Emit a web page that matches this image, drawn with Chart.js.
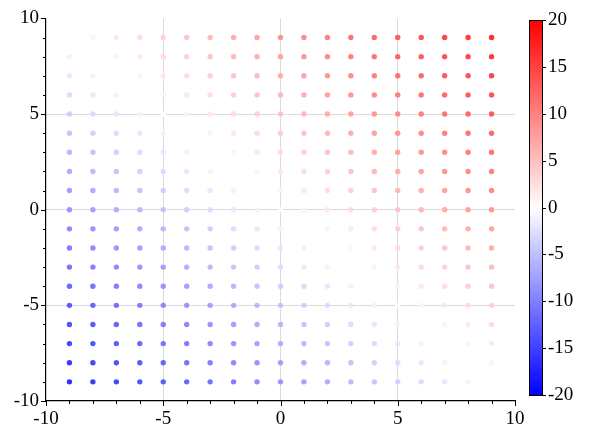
<!DOCTYPE html>
<html><head><meta charset="utf-8">
<script src="https://cdn.jsdelivr.net/npm/chart.js@4/dist/chart.umd.min.js"></script>
<style>html,body{margin:0;background:#fff}#c{display:block}</style>
</head><body>
<div style="width:590px;height:442px"><canvas id="c"></canvas></div>
<script>
// grid coordinates and value range
const xs = [-9,-8,-7,-6,-5,-4,-3,-2,-1,0,1,2,3,4,5,6,7,8,9];
const ys = [-9,-8,-7,-6,-5,-4,-3,-2,-1,0,1,2,3,4,5,6,7,8,9];
const axisTicks = [-10,-5,0,5,10];
const cbTicks = [-20,-15,-10,-5,0,5,10,15,20];
const vMin = -20, vMax = 20;

const bwr = (v) => {
  const t = Math.max(0, Math.min(1, (v - vMin) / (vMax - vMin)));
  let r, g, b;
  if (t < 0.5) { r = g = Math.round(510 * t); b = 255; }
  else { r = 255; g = b = Math.round(510 * (1 - t)); }
  return `rgba(${r},${g},${b},0.9)`;
};

const pts = [], cols = [];
ys.forEach(y => xs.forEach(x => { pts.push({x, y}); cols.push(bwr(x + y)); }));

const FONT = 'Liberation Serif';

const extras = {
  id: 'extras',
  afterDraw(chart) {
    const ctx = chart.ctx, a = chart.chartArea;
    const sx = chart.scales.x, sy = chart.scales.y;
    ctx.save();
    ctx.strokeStyle = '#000'; ctx.lineWidth = 1;
    // minor ticks
    for (let v = -10; v <= 10; v++) {
      const len = v % 5 === 0 ? 5 : 3;
      const px = Math.round(sx.getPixelForValue(v)) + 0.5;
      ctx.beginPath(); ctx.moveTo(px, a.bottom); ctx.lineTo(px, a.bottom + len); ctx.stroke();
      const py = Math.round(sy.getPixelForValue(v)) + 0.5;
      ctx.beginPath(); ctx.moveTo(a.left, py); ctx.lineTo(a.left - len, py); ctx.stroke();
    }
    // colorbar
    const bx = 529, bw = 13, top = 20, bot = 395;
    const grad = ctx.createLinearGradient(0, bot, 0, top);
    grad.addColorStop(0, 'rgb(0,0,255)');
    grad.addColorStop(0.5, 'rgb(255,255,255)');
    grad.addColorStop(1, 'rgb(255,0,0)');
    ctx.fillStyle = grad; ctx.fillRect(bx, top, bw, bot - top);
    ctx.strokeRect(bx + 0.5, top + 0.5, bw, bot - top);
    ctx.fillStyle = '#000'; ctx.font = `19px "${FONT}"`;
    ctx.textAlign = 'left'; ctx.textBaseline = 'middle';
    cbTicks.forEach(v => {
      const py = Math.round(bot - (v - vMin) / (vMax - vMin) * (bot - top)) + 0.5;
      ctx.beginPath(); ctx.moveTo(bx + bw, py); ctx.lineTo(bx + bw + 4, py); ctx.stroke();
      ctx.fillText(String(v), bx + bw + 6, py);
    });
    ctx.restore();
  }
};

const axisOpts = (w) => ({
  type: 'linear', min: -10, max: 10,
  afterBuildTicks: s => { s.ticks = axisTicks.map(v => ({value: v})); },
  afterFit: s => { if (s.isHorizontal()) s.height = w; else s.width = w; },
  grid: {
    color: ctx => (ctx.tick && Math.abs(ctx.tick.value) === 10) ? 'rgba(0,0,0,0)' : 'rgba(0,0,0,0.14)',
    drawTicks: false
  },
  border: { color: '#000', width: 1.2 },
  ticks: { color: '#000', font: { family: FONT, size: 19 }, padding: 7, maxRotation: 0 }
});

new Chart(document.getElementById('c'), {
  type: 'scatter',
  data: { datasets: [{ data: pts, backgroundColor: cols, borderWidth: 0, pointRadius: 2.7 }] },
  options: {
    responsive: true, maintainAspectRatio: false, animation: false,
    layout: { padding: { top: 18, right: 75, left: 0, bottom: 0 } },
    plugins: { legend: { display: false }, tooltip: { enabled: false } },
    scales: { x: axisOpts(41), y: axisOpts(46) }
  },
  plugins: [extras]
});
</script>
</body></html>
